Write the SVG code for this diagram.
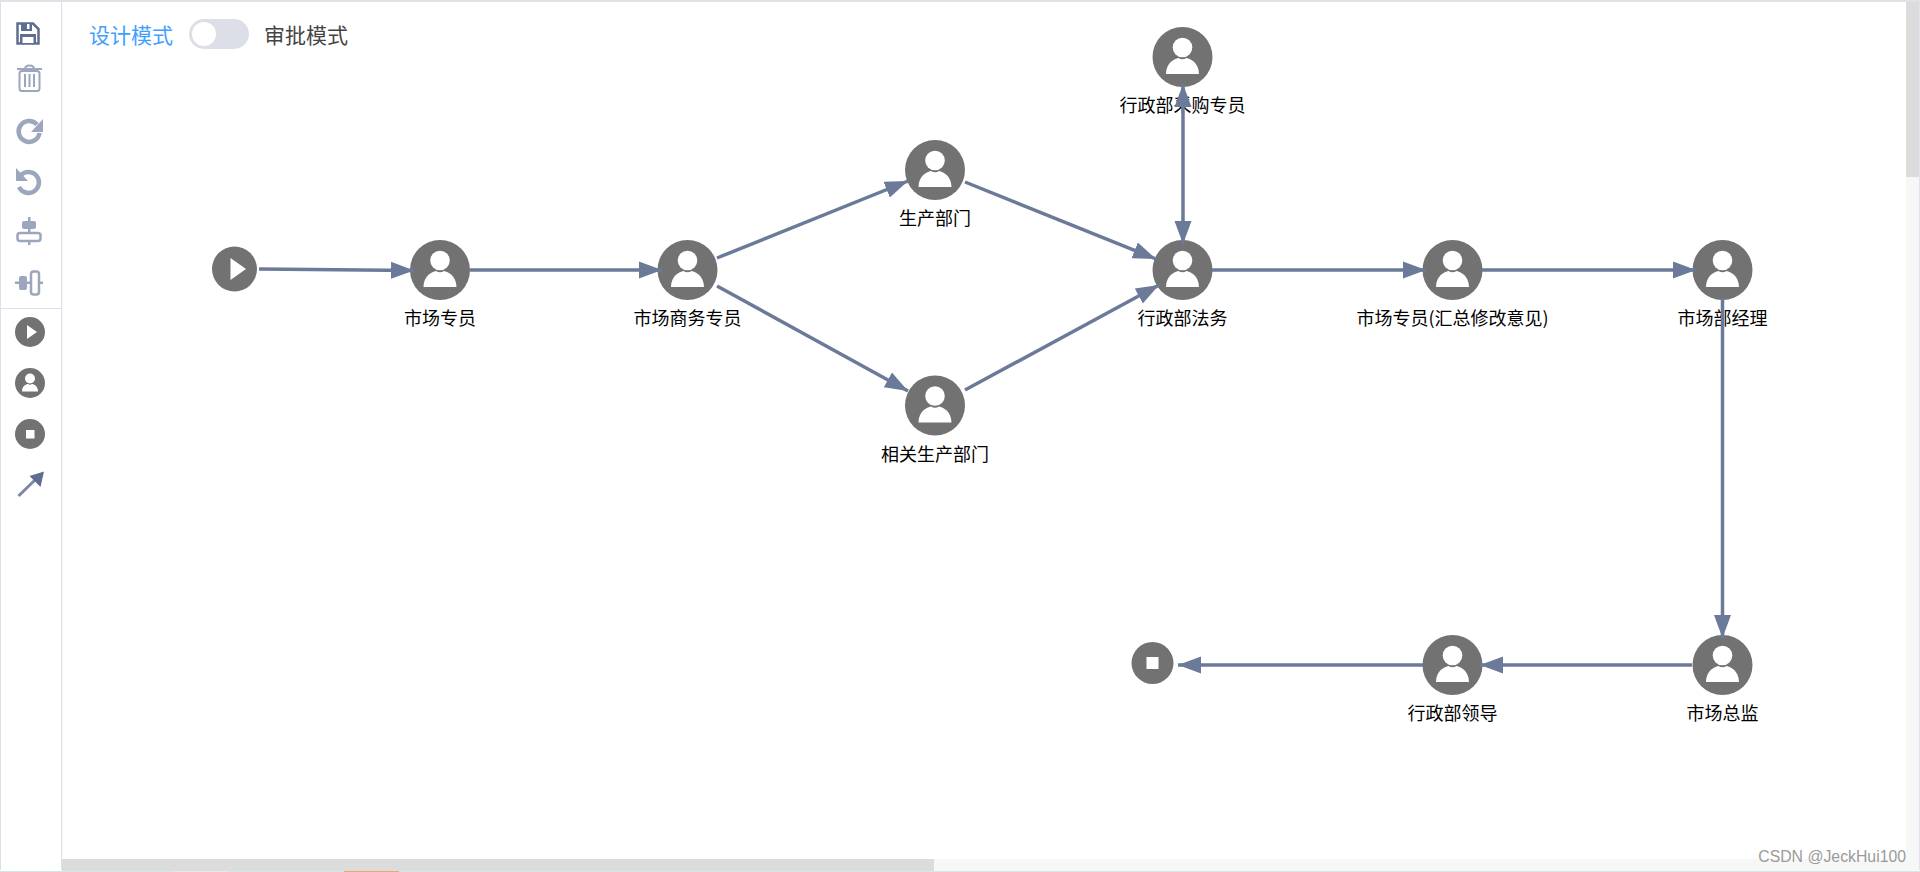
<svg xmlns="http://www.w3.org/2000/svg" width="1920" height="872" viewBox="0 0 1920 872">
<style>
.lbl{font:18px "Microsoft YaHei","Noto Sans CJK SC",sans-serif;fill:#000;text-anchor:middle}
.mode{font:21px "Noto Sans CJK SC",sans-serif}
.edge{stroke:#6b7a99;stroke-width:3.5;fill:none;marker-end:url(#arr)}
.ico{fill:#9ca6bd}
.disc{fill:#727272}
.w{fill:#fff}
</style>
<defs>
<marker id="arr" markerUnits="userSpaceOnUse" markerWidth="24" markerHeight="20" refX="23" refY="10" orient="auto"><path d="M0 1.500L23 10L0 18.500Z" fill="#6b7a99"/></marker>
<g id="person"><circle class="disc" r="30"/><circle class="w" cy="-9.500" r="9.800"/><path class="w" d="M-16.500 17C-16.500 6-8 1.500-4 1Q0 3.500 4 1C8 1.500 16.500 6 16.500 17Z"/></g>
</defs>
<rect width="1920" height="872" fill="#fff"/>
<g id="chrome">
<rect width="1920" height="2" fill="#dfe3e8"/>
<rect x="0" y="2" width="1" height="868" fill="#dcdfec"/>
<rect x="61" y="2" width="1.200" height="868" fill="#dcdfec"/>
<rect x="1" y="308" width="60" height="1" fill="#dcdfec"/>
<rect x="1906" y="2" width="13" height="857" fill="#f7f7f7"/>
<rect x="1906" y="2" width="13" height="175" fill="#dcdcdc"/>
<rect x="1919" y="2" width="1" height="868" fill="#e2e2f0"/>
<rect x="62" y="859" width="1857" height="12" fill="#f7f7f7"/>
<rect x="62" y="859" width="872" height="12" fill="#dcdcdc"/>
<rect y="871" width="1920" height="1" fill="#d3e6ea"/>
<rect x="173" y="871" width="55" height="1" fill="#e8e8e8"/>
<rect x="344" y="871" width="55" height="1" fill="#e8a878"/>
</g>
<g id="toolbar">
<g id="tool-save"><path d="M17.500 23.500H33L38.500 29V43.500H17.500Z" fill="none" stroke="#5f6d8e" stroke-width="2.500"/><path d="M21 23H32V31H21Z" fill="#5f6d8e"/><rect x="20" y="34" width="16" height="9" fill="#5f6d8e"/><rect x="22.500" y="37" width="11" height="6" fill="#fff"/><rect x="27" y="24" width="2.500" height="5" fill="#fff"/></g>
<g id="tool-delete"><path d="M17 69H42M25 69Q25 65.500 29.500 65.500Q34 65.500 34 69" fill="none" stroke="#9ca6bd" stroke-width="2"/><rect x="19.500" y="71" width="20" height="20" rx="2.500" fill="none" stroke="#9ca6bd" stroke-width="2"/><path d="M25 74V87M29.500 74V87M34 74V87" stroke="#9ca6bd" stroke-width="2"/></g>
<g id="tool-redo"><path d="M37 124.500A10.500 10.500 0 1 0 39.500 133" fill="none" stroke="#9ca6bd" stroke-width="4.500"/><path d="M43 119V132H31Z" class="ico"/></g>
<g id="tool-undo"><path d="M21 175A10.500 10.500 0 1 1 19 187" fill="none" stroke="#9ca6bd" stroke-width="4.500"/><path d="M16 168V181H28Z" class="ico"/></g>
<g id="tool-align-h"><rect x="28" y="217" width="2.500" height="28" class="ico"/><rect x="22" y="221" width="14" height="8" rx="2" class="ico"/><rect x="17.500" y="233" width="23" height="8" rx="2.500" fill="#fff" stroke="#9ca6bd" stroke-width="2.500"/></g>
<g id="tool-align-v"><rect x="15" y="281.500" width="28" height="2.500" class="ico"/><rect x="19" y="276" width="8" height="14" rx="2" class="ico"/><rect x="31" y="271.500" width="8" height="23" rx="2.500" fill="#fff" stroke="#9ca6bd" stroke-width="2.500"/></g>
<g id="tool-start"><circle class="disc" cx="30" cy="332" r="15"/><path class="w" d="M27 325L37 332L27 339Z"/></g>
<g id="tool-user"><circle class="disc" cx="30" cy="383" r="15"/><circle class="w" cx="30" cy="378.500" r="5"/><path class="w" d="M22 391.500C22 386 26 384 28 384Q30 385.500 32 384C34 384 38 386 38 391.500Z"/></g>
<g id="tool-end"><circle class="disc" cx="30" cy="434" r="15"/><rect class="w" x="26" y="430" width="8.500" height="8.500"/></g>
<g id="tool-edge"><path d="M18.500 496L36 479" stroke="#7a87a5" stroke-width="3"/><path d="M44 471.500L40.500 487L29.500 476Z" fill="#5f6d8e"/></g>
</g>
<g id="mode-switch">
<text class="mode" x="89" y="43" fill="#409eff">设计模式</text>
<rect x="189" y="19" width="60" height="30" rx="15" fill="#dcdfe8"/>
<circle cx="204" cy="34" r="12" fill="#fff"/>
<text class="mode" x="264" y="43" fill="#444">审批模式</text>
</g>
<g id="node-start"><circle class="disc" cx="234.500" cy="269" r="22.500"/><path class="w" d="M230.500 258L246 269L230.500 280Z"/></g>
<g id="node-1" transform="translate(440 270)"><use href="#person"/><text class="lbl" y="55">市场专员</text></g>
<g id="node-2" transform="translate(687.500 270)"><use href="#person"/><text class="lbl" y="55">市场商务专员</text></g>
<g id="node-3" transform="translate(935 170)"><use href="#person"/><text class="lbl" y="55">生产部门</text></g>
<g id="node-4" transform="translate(935 405.500)"><use href="#person"/><text class="lbl" y="55">相关生产部门</text></g>
<g id="node-5" transform="translate(1182.500 270)"><use href="#person"/><text class="lbl" y="55">行政部法务</text></g>
<g id="node-6" transform="translate(1182.500 57)"><use href="#person"/><text class="lbl" y="55">行政部采购专员</text></g>
<g id="node-7" transform="translate(1452.500 270)"><use href="#person"/><text class="lbl" y="55">市场专员(汇总修改意见)</text></g>
<g id="node-8" transform="translate(1722.500 270)"><use href="#person"/><text class="lbl" y="55">市场部经理</text></g>
<g id="node-9" transform="translate(1722.500 665)"><use href="#person"/><text class="lbl" y="55">市场总监</text></g>
<g id="node-10" transform="translate(1452.500 665)"><use href="#person"/><text class="lbl" y="55">行政部领导</text></g>
<g id="node-end"><circle class="disc" cx="1152.500" cy="663" r="21"/><rect class="w" x="1146.500" y="657" width="12" height="12"/></g>
<g id="connectors">
<path class="edge" d="M259 269L414 270.500"/>
<path class="edge" d="M470 270H662"/>
<path class="edge" d="M717 258L908 181"/>
<path class="edge" d="M717 286L908 391"/>
<path class="edge" d="M965 182L1156 259"/>
<path class="edge" d="M965 390L1159 285"/>
<path class="edge" d="M1183 150V84"/>
<path class="edge" d="M1183 150V244"/>
<path class="edge" d="M1212 270H1426"/>
<path class="edge" d="M1482 270H1696"/>
<path class="edge" d="M1722.500 298V638"/>
<path class="edge" d="M1692 665H1480"/>
<path class="edge" d="M1423 665H1178"/>
</g>
<text x="1906" y="862" font-family="Liberation Sans, sans-serif" font-size="15.800" fill="#9a9a9a" text-anchor="end">CSDN @JeckHui100</text>
</svg>
